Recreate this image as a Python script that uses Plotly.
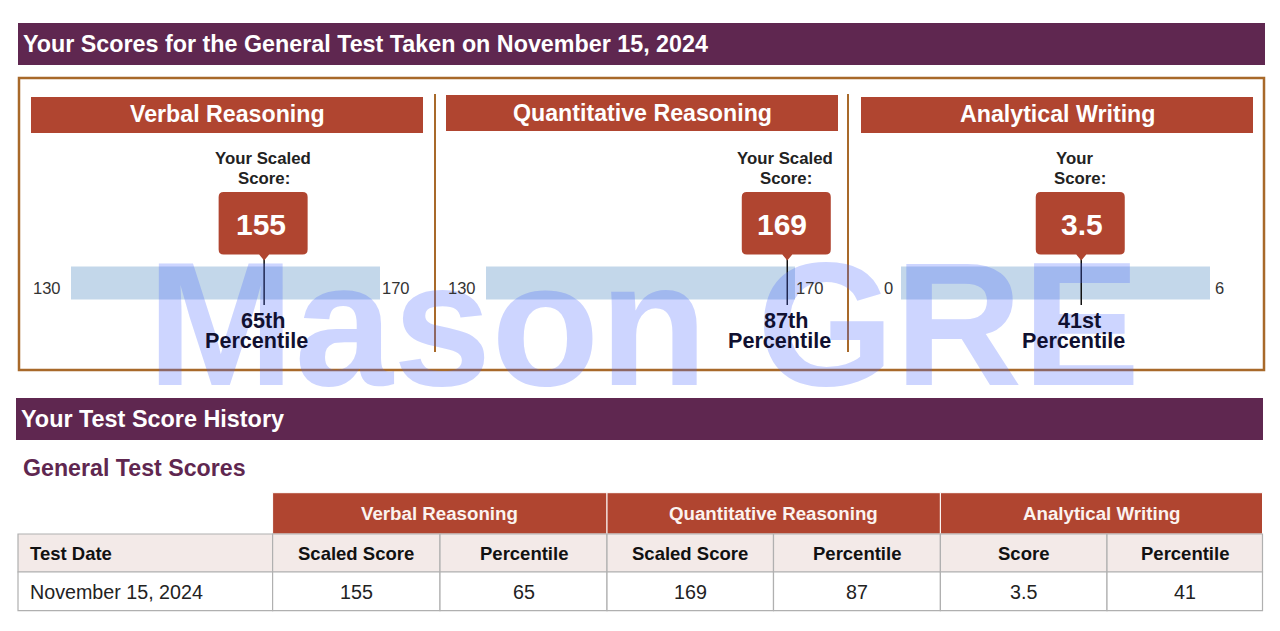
import plotly.graph_objects as go

# Values
sections = ["Verbal Reasoning", "Quantitative Reasoning", "Analytical Writing"]
scores = [155, 169, 3.5]
score_labels = ["155", "169", "3.5"]
percentiles = [65, 87, 41]
percentile_labels = ["65th", "87th", "41st"]
scale_min = [130, 130, 0]
scale_max = [170, 170, 6]
score_captions = [["Your Scaled", "Score:"], ["Your Scaled", "Score:"], ["Your", "Score:"]]
score_columns = ["Scaled Score", "Scaled Score", "Score"]
test_date = "November 15, 2024"

W, H = 1280, 631
PURPLE = "#5f2750"
RED = "#b04530"
BROWN = "#a8692a"
BAR = "#c3d7ea"
GRID = "#b0b0b0"
FONT = "Liberation Sans"

# layout of the three panels, in page pixels
bar_left = [71, 486, 901]
bar_width = 309
head_left = [31, 446, 861]
head_top = [97, 95, 97]
caption_dx = [(-1, 0), (-2, -1), (-7, -1)]
score_dx = [-3, -5, 1]
min_dx = [-8.5, -8.5, -6]
max_dx = [0, -1, 3]

fig = go.Figure()
shapes = []
notes = []


def page_rect(x0, y0, x1, y1, fill=None, line=None, width=0):
    shapes.append(dict(type="rect", xref="x4", yref="y", x0=x0, x1=x1, y0=y0, y1=y1,
                       fillcolor=fill, line=dict(color=line, width=width), layer="below"))


def note(x, y, text, size, color="#222222", bold=False, anchor="center", xref="x4", dx=0):
    if bold:
        text = "<b>" + text + "</b>"
    notes.append(dict(x=x, y=y, xref=xref, yref="y", text=text, showarrow=False,
                      xanchor=anchor, yanchor="middle", xshift=dx,
                      font=dict(family=FONT, size=size, color=color)))


# watermark goes first so the other text sits on top of it
notes.append(dict(x=643, y=323.5, xref="x4", yref="y", text="<b>Mason GRE</b>", showarrow=False,
                  xanchor="center", yanchor="middle",
                  font=dict(family=FONT, size=177, color="rgba(70,100,255,0.27)")))

# banners
page_rect(18, 23, 1265, 65, fill=PURPLE)
note(21, 44, "Your Scores for the General Test Taken on November 15, 2024", 23.3, "white", True, "left")
page_rect(16, 398, 1263, 440, fill=PURPLE)
note(19, 419, "Your Test Score History", 23.4, "white", True, "left")
note(21, 468, "General Test Scores", 23.2, PURPLE, True, "left")

# frame and dividers
page_rect(19, 78, 1264, 370, line=BROWN, width=2.5)
for x in [435, 848]:
    shapes.append(dict(type="line", xref="x4", yref="y", x0=x, x1=x, y0=94, y1=352,
                       line=dict(color=BROWN, width=2)))

for i, name in enumerate(sections):
    ax = "x" if i == 0 else f"x{i + 1}"
    lo, hi, val = scale_min[i], scale_max[i], scores[i]

    fig.add_trace(go.Bar(x=[hi - lo], y=[283], base=[lo], width=[33], orientation="h",
                         marker=dict(color=BAR, line=dict(width=0)), xaxis=ax, yaxis="y",
                         showlegend=False, hoverinfo="skip"))
    fig.add_trace(go.Scatter(x=[val, val], y=[258, 305], mode="lines", line=dict(color="#111111", width=1.5),
                             xaxis=ax, yaxis="y", showlegend=False, hoverinfo="skip"))

    # section heading
    page_rect(head_left[i], head_top[i], head_left[i] + 392, head_top[i] + 36, fill=RED)
    note(head_left[i] + 196, head_top[i] + 18 if i == 1 else head_top[i] + 17, name, 23.2, "white", True)

    # rounded score box with its small pointer, centred on the score position
    px = bar_left[i] + (val - lo) / (hi - lo) * bar_width
    cx = px - 1
    l, r, t, b, c = cx - 44.5, cx + 44.5, 192, 254.5, 5
    path = (f"M{l + c},{t} L{r - c},{t} Q{r},{t} {r},{t + c} L{r},{b - c} Q{r},{b} {r - c},{b} "
            f"L{px + 5},{b} L{px},{b + 6} L{px - 5},{b} L{l + c},{b} Q{l},{b} {l},{b - c} "
            f"L{l},{t + c} Q{l},{t} {l + c},{t} Z")
    shapes.append(dict(type="path", xref="x4", yref="y", path=path, fillcolor=RED,
                       line=dict(color=RED, width=0)))
    note(val, 224, score_labels[i], 30, "white", True, xref=ax, dx=score_dx[i])

    # captions above and below the box
    note(val, 158, score_captions[i][0], 16.8, "#222222", True, xref=ax, dx=caption_dx[i][0])
    note(val, 178, score_captions[i][1], 16.8, "#222222", True, xref=ax, dx=caption_dx[i][1])
    note(val, 320, percentile_labels[i], 21.6, "#101030", True, xref=ax, dx=-1.5)
    note(val, 340, "Percentile", 21.6, "#101030", True, xref=ax, dx=-8)

    # scale ends
    note(lo, 288, str(lo), 16.5, "#333333", anchor="right", xref=ax, dx=min_dx[i])
    note(hi, 288, str(hi), 16.5, "#333333", anchor="left", xref=ax, dx=max_dx[i])

# score history table, one rectangle and one text per cell
col_edges = [18, 272.6, 440, 607, 773.5, 940.4, 1107, 1262.5]
row_edges = [492.7, 534, 572, 610.7]

for i, name in enumerate(sections):
    x0, x1 = col_edges[2 * i + 1], col_edges[2 * i + 3]
    page_rect(x0, row_edges[0], x1, row_edges[1], fill=RED, line="white", width=1)
    note((x0 + x1) / 2, 513.5, name, 18.7, "#fbf3ef", True)

head_row = ["Test Date"]
body_row = [test_date]
for i in range(3):
    head_row += [score_columns[i], "Percentile"]
    body_row += [score_labels[i], str(percentiles[i])]

for j in range(len(head_row)):
    x0, x1 = col_edges[j], col_edges[j + 1]
    page_rect(x0, row_edges[1], x1, row_edges[2], fill="#f3eae8", line=GRID, width=1.2)
    page_rect(x0, row_edges[2], x1, row_edges[3], fill="white", line=GRID, width=1.2)
    if j == 0:
        note(x0 + 10, 553.5, head_row[j], 18.5, "#111111", True, "left")
        note(x0 + 10, 592, body_row[j], 19.7, "#222222", False, "left")
    else:
        note((x0 + x1) / 2, 553.5, head_row[j], 18.5, "#111111", True)
        note((x0 + x1) / 2, 592, body_row[j], 19.7, "#222222")

axis_common = dict(visible=False, fixedrange=True, anchor="y")
fig.update_layout(
    width=W, height=H, margin=dict(l=0, r=0, t=0, b=0),
    paper_bgcolor="white", plot_bgcolor="rgba(0,0,0,0)", showlegend=False, barmode="overlay",
    xaxis=dict(domain=[bar_left[0] / W, (bar_left[0] + bar_width) / W], range=[scale_min[0], scale_max[0]], **axis_common),
    xaxis2=dict(domain=[bar_left[1] / W, (bar_left[1] + bar_width) / W], range=[scale_min[1], scale_max[1]], **axis_common),
    xaxis3=dict(domain=[bar_left[2] / W, (bar_left[2] + bar_width) / W], range=[scale_min[2], scale_max[2]], **axis_common),
    xaxis4=dict(domain=[0, 1], range=[0, W], **axis_common),
    yaxis=dict(domain=[0, 1], range=[H, 0], visible=False, fixedrange=True),
    shapes=shapes, annotations=notes,
)

# the page's default body margin would push the figure 8px in
fig.write_html("out.html", config=dict(displayModeBar=False),
               post_script="document.body.style.margin='0';")
